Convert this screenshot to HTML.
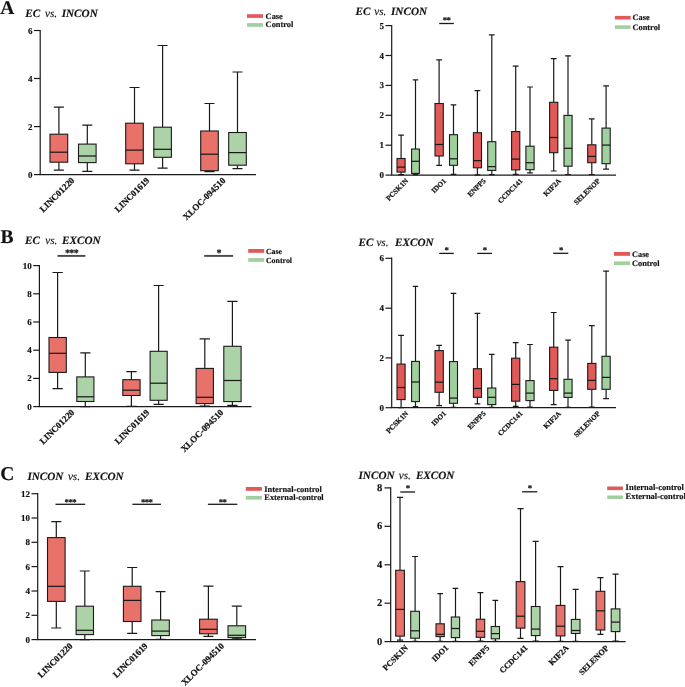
<!DOCTYPE html>
<html><head><meta charset="utf-8"><title>Figure</title>
<style>
html,body{margin:0;padding:0;background:#fff}
body{width:685px;height:687px;overflow:hidden}
svg{display:block;font-family:"Liberation Serif","DejaVu Serif",serif;fill:#111}
text{stroke:#111;stroke-width:.15px;text-rendering:geometricPrecision}
</style></head><body>
<svg width="685" height="687" viewBox="0 0 685 687">
<rect width="685" height="687" fill="#fff"/>
<text x="0.2" y="14" font-size="19.5" font-weight="bold">A</text>
<text y="16.9" font-size="11.2" font-style="italic" font-weight="bold"><tspan x="25.3">EC</tspan> <tspan x="45" font-weight="normal" style="stroke-width:.1px">vs.</tspan> <tspan x="61.7">INCON</tspan></text>
<path d="M40.2 29.9V174.6H256.0" stroke="#1a1a1a" stroke-width="1.2" fill="none"/>
<path d="M34.0 174.6H40.2" stroke="#1a1a1a" stroke-width="1.2"/>
<text x="32.5" y="177.6" text-anchor="end" font-size="9" font-weight="bold">0</text>
<path d="M34.0 126.6H40.2" stroke="#1a1a1a" stroke-width="1.2"/>
<text x="32.5" y="129.6" text-anchor="end" font-size="9" font-weight="bold">2</text>
<path d="M34.0 78.5H40.2" stroke="#1a1a1a" stroke-width="1.2"/>
<text x="32.5" y="81.6" text-anchor="end" font-size="9" font-weight="bold">4</text>
<path d="M34.0 30.5H40.2" stroke="#1a1a1a" stroke-width="1.2"/>
<text x="32.5" y="33.5" text-anchor="end" font-size="9" font-weight="bold">6</text>
<path d="M58.9 107.2V134.2M58.9 162.2V170.2M53.8 107.2H63.9M53.8 170.2H63.9" stroke="#1a1a1a" stroke-width="1.2" fill="none"/><rect x="50.0" y="134.2" width="17.7" height="28.0" fill="#E8716A" stroke="#1a1a1a" stroke-width="1.1"/><path d="M50.0 152.2H67.7" stroke="#1a1a1a" stroke-width="1.25"/>
<path d="M87.3 125.2V144.1M87.3 162.6V171.3M82.3 125.2H92.3M82.3 171.3H92.3" stroke="#1a1a1a" stroke-width="1.2" fill="none"/><rect x="78.5" y="144.1" width="17.6" height="18.5" fill="#ACD3A8" stroke="#1a1a1a" stroke-width="1.1"/><path d="M78.5 156.0H96.1" stroke="#1a1a1a" stroke-width="1.25"/>
<path d="M134.5 87.5V123.2M134.5 163.8V170.2M129.5 87.5H139.5M129.5 170.2H139.5" stroke="#1a1a1a" stroke-width="1.2" fill="none"/><rect x="125.7" y="123.2" width="17.6" height="40.6" fill="#E8716A" stroke="#1a1a1a" stroke-width="1.1"/><path d="M125.7 150.1H143.3" stroke="#1a1a1a" stroke-width="1.25"/>
<path d="M162.6 45.5V127.2M162.6 157.3V168.2M157.6 45.5H167.6M157.6 168.2H167.6" stroke="#1a1a1a" stroke-width="1.2" fill="none"/><rect x="153.8" y="127.2" width="17.6" height="30.1" fill="#ACD3A8" stroke="#1a1a1a" stroke-width="1.1"/><path d="M153.8 149.3H171.4" stroke="#1a1a1a" stroke-width="1.25"/>
<path d="M209.5 103.5V131.0M209.5 170.7V171.7M204.5 103.5H214.5M204.5 171.7H214.5" stroke="#1a1a1a" stroke-width="1.2" fill="none"/><rect x="200.7" y="131.0" width="17.6" height="39.7" fill="#E8716A" stroke="#1a1a1a" stroke-width="1.1"/><path d="M200.7 154.2H218.3" stroke="#1a1a1a" stroke-width="1.25"/>
<path d="M237.5 72.0V132.5M237.5 165.2V168.6M232.5 72.0H242.5M232.5 168.6H242.5" stroke="#1a1a1a" stroke-width="1.2" fill="none"/><rect x="228.7" y="132.5" width="17.6" height="32.7" fill="#ACD3A8" stroke="#1a1a1a" stroke-width="1.1"/><path d="M228.7 152.6H246.3" stroke="#1a1a1a" stroke-width="1.25"/>
<text transform="translate(75.0 181.0) rotate(-45)" text-anchor="end" font-size="9.0" font-weight="bold" style="stroke-width:.22px">LINC01220</text>
<text transform="translate(150.0 181.0) rotate(-45)" text-anchor="end" font-size="9.0" font-weight="bold" style="stroke-width:.22px">LINC01619</text>
<text transform="translate(226.2 181.0) rotate(-45)" text-anchor="end" font-size="9.0" font-weight="bold" style="stroke-width:.22px">XLOC-094510</text>
<rect x="247" y="14.2" width="16.0" height="3.7" fill="#E15A58"/>
<rect x="247" y="23.1" width="16.0" height="3.7" fill="#A0D09E"/>
<text x="265.6" y="18.8" font-size="8.4" font-weight="bold">Case</text>
<text x="265.6" y="27.4" font-size="8.4" font-weight="bold">Control</text>
<text y="14.9" font-size="11.2" font-style="italic" font-weight="bold"><tspan x="355.5">EC</tspan> <tspan x="374.3" font-weight="normal" style="stroke-width:.1px">vs.</tspan> <tspan x="391">INCON</tspan></text>
<path d="M391.7 25.0V175.1H616.0" stroke="#1a1a1a" stroke-width="1.2" fill="none"/>
<path d="M385.5 175.1H391.7" stroke="#1a1a1a" stroke-width="1.2"/>
<text x="384.0" y="178.1" text-anchor="end" font-size="9" font-weight="bold">0</text>
<path d="M385.5 145.2H391.7" stroke="#1a1a1a" stroke-width="1.2"/>
<text x="384.0" y="148.2" text-anchor="end" font-size="9" font-weight="bold">1</text>
<path d="M385.5 115.3H391.7" stroke="#1a1a1a" stroke-width="1.2"/>
<text x="384.0" y="118.3" text-anchor="end" font-size="9" font-weight="bold">2</text>
<path d="M385.5 85.4H391.7" stroke="#1a1a1a" stroke-width="1.2"/>
<text x="384.0" y="88.4" text-anchor="end" font-size="9" font-weight="bold">3</text>
<path d="M385.5 55.5H391.7" stroke="#1a1a1a" stroke-width="1.2"/>
<text x="384.0" y="58.5" text-anchor="end" font-size="9" font-weight="bold">4</text>
<path d="M385.5 25.6H391.7" stroke="#1a1a1a" stroke-width="1.2"/>
<text x="384.0" y="28.6" text-anchor="end" font-size="9" font-weight="bold">5</text>
<path d="M401.1 135.2V158.5M401.1 172.1V174.6M398.2 135.2H403.9M398.2 174.6H403.9" stroke="#1a1a1a" stroke-width="1.2" fill="none"/><rect x="397.0" y="158.5" width="8.1" height="13.6" fill="#E15A58" stroke="#1a1a1a" stroke-width="1.1"/><path d="M397.0 167.1H405.1" stroke="#1a1a1a" stroke-width="1.25"/>
<path d="M415.5 79.9V149.0M415.5 173.4V174.6M412.8 79.9H418.2M412.8 174.6H418.2" stroke="#1a1a1a" stroke-width="1.2" fill="none"/><rect x="411.6" y="149.0" width="7.8" height="24.4" fill="#A0D09E" stroke="#1a1a1a" stroke-width="1.1"/><path d="M411.6 161.3H419.4" stroke="#1a1a1a" stroke-width="1.25"/>
<path d="M439.1 59.8V103.5M439.1 156.0V165.3M436.3 59.8H442.0M436.3 165.3H442.0" stroke="#1a1a1a" stroke-width="1.2" fill="none"/><rect x="435.0" y="103.5" width="8.3" height="52.5" fill="#E15A58" stroke="#1a1a1a" stroke-width="1.1"/><path d="M435.0 144.5H443.3" stroke="#1a1a1a" stroke-width="1.25"/>
<path d="M453.5 104.8V134.7M453.5 165.3V174.4M450.7 104.8H456.3M450.7 174.4H456.3" stroke="#1a1a1a" stroke-width="1.2" fill="none"/><rect x="449.5" y="134.7" width="8.0" height="30.6" fill="#A0D09E" stroke="#1a1a1a" stroke-width="1.1"/><path d="M449.5 158.8H457.5" stroke="#1a1a1a" stroke-width="1.25"/>
<path d="M477.4 90.7V132.7M477.4 167.8V174.8M474.6 90.7H480.3M474.6 174.8H480.3" stroke="#1a1a1a" stroke-width="1.2" fill="none"/><rect x="473.4" y="132.7" width="8.1" height="35.1" fill="#E15A58" stroke="#1a1a1a" stroke-width="1.1"/><path d="M473.4 160.6H481.5" stroke="#1a1a1a" stroke-width="1.25"/>
<path d="M491.8 34.9V141.7M491.8 170.4V174.6M488.9 34.9H494.6M488.9 174.6H494.6" stroke="#1a1a1a" stroke-width="1.2" fill="none"/><rect x="487.7" y="141.7" width="8.1" height="28.7" fill="#A0D09E" stroke="#1a1a1a" stroke-width="1.1"/><path d="M487.7 166.6H495.8" stroke="#1a1a1a" stroke-width="1.25"/>
<path d="M515.7 66.2V131.6M515.7 169.9V174.3M512.8 66.2H518.6M512.8 174.3H518.6" stroke="#1a1a1a" stroke-width="1.2" fill="none"/><rect x="511.6" y="131.6" width="8.2" height="38.3" fill="#E15A58" stroke="#1a1a1a" stroke-width="1.1"/><path d="M511.6 159.1H519.8" stroke="#1a1a1a" stroke-width="1.25"/>
<path d="M530.0 87.0V146.2M530.0 169.7V172.9M527.1 87.0H532.9M527.1 172.9H532.9" stroke="#1a1a1a" stroke-width="1.2" fill="none"/><rect x="525.9" y="146.2" width="8.2" height="23.5" fill="#A0D09E" stroke="#1a1a1a" stroke-width="1.1"/><path d="M525.9 162.7H534.1" stroke="#1a1a1a" stroke-width="1.25"/>
<path d="M553.7 58.6V102.3M553.7 152.7V171.0M550.8 58.6H556.6M550.8 171.0H556.6" stroke="#1a1a1a" stroke-width="1.2" fill="none"/><rect x="549.6" y="102.3" width="8.2" height="50.4" fill="#E15A58" stroke="#1a1a1a" stroke-width="1.1"/><path d="M549.6 137.5H557.8" stroke="#1a1a1a" stroke-width="1.25"/>
<path d="M568.0 55.9V115.4M568.0 166.2V174.5M565.2 55.9H570.9M565.2 174.5H570.9" stroke="#1a1a1a" stroke-width="1.2" fill="none"/><rect x="564.0" y="115.4" width="8.1" height="50.8" fill="#A0D09E" stroke="#1a1a1a" stroke-width="1.1"/><path d="M564.0 148.3H572.1" stroke="#1a1a1a" stroke-width="1.25"/>
<path d="M591.8 118.9V144.8M591.8 162.7V174.5M588.9 118.9H594.7M588.9 174.5H594.7" stroke="#1a1a1a" stroke-width="1.2" fill="none"/><rect x="587.7" y="144.8" width="8.2" height="17.9" fill="#E15A58" stroke="#1a1a1a" stroke-width="1.1"/><path d="M587.7 156.4H595.9" stroke="#1a1a1a" stroke-width="1.25"/>
<path d="M606.1 85.9V128.1M606.1 163.7V169.1M603.2 85.9H609.0M603.2 169.1H609.0" stroke="#1a1a1a" stroke-width="1.2" fill="none"/><rect x="602.0" y="128.1" width="8.2" height="35.6" fill="#A0D09E" stroke="#1a1a1a" stroke-width="1.1"/><path d="M602.0 145.1H610.2" stroke="#1a1a1a" stroke-width="1.25"/>
<text transform="translate(408.7 181.4) rotate(-45)" text-anchor="end" font-size="7.2" font-weight="bold" style="stroke-width:.22px">PCSK1N</text>
<text transform="translate(446.5 181.4) rotate(-45)" text-anchor="end" font-size="7.2" font-weight="bold" style="stroke-width:.22px">IDO1</text>
<text transform="translate(486.2 181.4) rotate(-45)" text-anchor="end" font-size="7.2" font-weight="bold" style="stroke-width:.22px">ENPP5</text>
<text transform="translate(523.0 181.4) rotate(-45)" text-anchor="end" font-size="7.2" font-weight="bold" style="stroke-width:.22px">CCDC141</text>
<text transform="translate(561.5 181.4) rotate(-45)" text-anchor="end" font-size="7.2" font-weight="bold" style="stroke-width:.22px">KIF2A</text>
<text transform="translate(600.5 181.4) rotate(-45)" text-anchor="end" font-size="7.2" font-weight="bold" style="stroke-width:.22px">SELENOP</text>
<rect x="614.9" y="15.9" width="15.8" height="3.6" fill="#E15A58"/>
<rect x="614.9" y="25.3" width="15.8" height="3.6" fill="#A0D09E"/>
<text x="632.6" y="20.3" font-size="8.3" font-weight="bold">Case</text>
<text x="632.6" y="29.7" font-size="8.3" font-weight="bold">Control</text>
<path d="M439.2 23.5H453.8" stroke="#1a1a1a" stroke-width="1.3"/>
<text x="446.5" y="23.4" text-anchor="middle" font-size="8.8" font-weight="bold" style="stroke-width:.2px;letter-spacing:-.6px">**</text>
<text x="0.5" y="242.8" font-size="19.5" font-weight="bold">B</text>
<text y="243.8" font-size="11.2" font-style="italic" font-weight="bold"><tspan x="25">EC</tspan> <tspan x="45.2" font-weight="normal" style="stroke-width:.1px">vs.</tspan> <tspan x="62">EXCON</tspan></text>
<path d="M39.4 265.0V406.6H251.5" stroke="#1a1a1a" stroke-width="1.2" fill="none"/>
<path d="M33.2 406.6H39.4" stroke="#1a1a1a" stroke-width="1.2"/>
<text x="31.7" y="409.6" text-anchor="end" font-size="9" font-weight="bold">0</text>
<path d="M33.2 378.4H39.4" stroke="#1a1a1a" stroke-width="1.2"/>
<text x="31.7" y="381.4" text-anchor="end" font-size="9" font-weight="bold">2</text>
<path d="M33.2 350.2H39.4" stroke="#1a1a1a" stroke-width="1.2"/>
<text x="31.7" y="353.2" text-anchor="end" font-size="9" font-weight="bold">4</text>
<path d="M33.2 322.0H39.4" stroke="#1a1a1a" stroke-width="1.2"/>
<text x="31.7" y="325.0" text-anchor="end" font-size="9" font-weight="bold">6</text>
<path d="M33.2 293.8H39.4" stroke="#1a1a1a" stroke-width="1.2"/>
<text x="31.7" y="296.8" text-anchor="end" font-size="9" font-weight="bold">8</text>
<path d="M33.2 265.6H39.4" stroke="#1a1a1a" stroke-width="1.2"/>
<text x="31.7" y="268.6" text-anchor="end" font-size="9" font-weight="bold">10</text>
<path d="M57.6 272.5V337.5M57.6 372.4V388.7M52.5 272.5H62.8M52.5 388.7H62.8" stroke="#1a1a1a" stroke-width="1.2" fill="none"/><rect x="49.0" y="337.5" width="17.3" height="34.9" fill="#E8716A" stroke="#1a1a1a" stroke-width="1.1"/><path d="M49.0 353.3H66.3" stroke="#1a1a1a" stroke-width="1.25"/>
<path d="M85.3 352.8V376.9M85.3 401.5V406.6M80.3 352.8H90.4M80.3 406.6H90.4" stroke="#1a1a1a" stroke-width="1.2" fill="none"/><rect x="76.8" y="376.9" width="17.1" height="24.6" fill="#ACD3A8" stroke="#1a1a1a" stroke-width="1.1"/><path d="M76.8 396.8H93.9" stroke="#1a1a1a" stroke-width="1.25"/>
<path d="M131.4 371.7V379.7M131.4 395.5V406.3M126.3 371.7H136.6M126.3 406.3H136.6" stroke="#1a1a1a" stroke-width="1.2" fill="none"/><rect x="122.8" y="379.7" width="17.3" height="15.8" fill="#E8716A" stroke="#1a1a1a" stroke-width="1.1"/><path d="M122.8 390.2H140.1" stroke="#1a1a1a" stroke-width="1.25"/>
<path d="M158.6 285.5V351.3M158.6 400.3V404.3M153.6 285.5H163.7M153.6 404.3H163.7" stroke="#1a1a1a" stroke-width="1.2" fill="none"/><rect x="150.1" y="351.3" width="17.1" height="49.0" fill="#ACD3A8" stroke="#1a1a1a" stroke-width="1.1"/><path d="M150.1 383.2H167.2" stroke="#1a1a1a" stroke-width="1.25"/>
<path d="M204.8 338.8V368.4M204.8 403.6V406.1M199.6 338.8H209.9M199.6 406.1H209.9" stroke="#1a1a1a" stroke-width="1.2" fill="none"/><rect x="196.1" y="368.4" width="17.3" height="35.2" fill="#E8716A" stroke="#1a1a1a" stroke-width="1.1"/><path d="M196.1 397.3H213.4" stroke="#1a1a1a" stroke-width="1.25"/>
<path d="M232.4 301.4V346.3M232.4 401.6V405.4M227.3 301.4H237.6M227.3 405.4H237.6" stroke="#1a1a1a" stroke-width="1.2" fill="none"/><rect x="223.8" y="346.3" width="17.3" height="55.3" fill="#ACD3A8" stroke="#1a1a1a" stroke-width="1.1"/><path d="M223.8 380.5H241.1" stroke="#1a1a1a" stroke-width="1.25"/>
<text transform="translate(75.0 413.0) rotate(-45)" text-anchor="end" font-size="9.0" font-weight="bold" style="stroke-width:.22px">LINC01220</text>
<text transform="translate(150.0 413.0) rotate(-45)" text-anchor="end" font-size="9.0" font-weight="bold" style="stroke-width:.22px">LINC01619</text>
<text transform="translate(224.0 413.0) rotate(-45)" text-anchor="end" font-size="9.0" font-weight="bold" style="stroke-width:.22px">XLOC-094510</text>
<rect x="248.2" y="249" width="16.0" height="3.8" fill="#E15A58"/>
<rect x="248.2" y="258.1" width="16.0" height="3.7" fill="#A0D09E"/>
<text x="265.9" y="253.6" font-size="7.9" font-weight="bold">Case</text>
<text x="265.9" y="262.6" font-size="7.9" font-weight="bold">Control</text>
<path d="M57.5 255.9H85.4" stroke="#4a4a4a" stroke-width="1.9"/>
<text x="71.5" y="255.6" text-anchor="middle" font-size="10" font-weight="bold" style="stroke-width:.2px;letter-spacing:-.6px">***</text>
<path d="M204.2 255.9H233.1" stroke="#4a4a4a" stroke-width="1.9"/>
<text x="218.6" y="255.6" text-anchor="middle" font-size="10" font-weight="bold" style="stroke-width:.2px;letter-spacing:-.6px">*</text>
<text y="246.4" font-size="11.2" font-style="italic" font-weight="bold"><tspan x="358.5">EC</tspan> <tspan x="376.4" font-weight="normal" style="stroke-width:.1px">vs.</tspan> <tspan x="395">EXCON</tspan></text>
<path d="M391.7 257.6V407.7H616.0" stroke="#1a1a1a" stroke-width="1.2" fill="none"/>
<path d="M385.5 407.7H391.7" stroke="#1a1a1a" stroke-width="1.2"/>
<text x="384.0" y="410.7" text-anchor="end" font-size="9" font-weight="bold">0</text>
<path d="M385.5 357.9H391.7" stroke="#1a1a1a" stroke-width="1.2"/>
<text x="384.0" y="360.9" text-anchor="end" font-size="9" font-weight="bold">2</text>
<path d="M385.5 308.2H391.7" stroke="#1a1a1a" stroke-width="1.2"/>
<text x="384.0" y="311.2" text-anchor="end" font-size="9" font-weight="bold">4</text>
<path d="M385.5 258.3H391.7" stroke="#1a1a1a" stroke-width="1.2"/>
<text x="384.0" y="261.3" text-anchor="end" font-size="9" font-weight="bold">6</text>
<path d="M401.1 335.3V364.1M401.1 399.6V407.6M398.2 335.3H403.9M398.2 407.6H403.9" stroke="#1a1a1a" stroke-width="1.2" fill="none"/><rect x="397.0" y="364.1" width="8.1" height="35.5" fill="#E15A58" stroke="#1a1a1a" stroke-width="1.1"/><path d="M397.0 387.5H405.1" stroke="#1a1a1a" stroke-width="1.25"/>
<path d="M415.5 286.3V361.4M415.5 401.6V406.6M412.8 286.3H418.2M412.8 406.6H418.2" stroke="#1a1a1a" stroke-width="1.2" fill="none"/><rect x="411.6" y="361.4" width="7.8" height="40.2" fill="#A0D09E" stroke="#1a1a1a" stroke-width="1.1"/><path d="M411.6 382.0H419.4" stroke="#1a1a1a" stroke-width="1.25"/>
<path d="M439.1 345.3V350.6M439.1 392.3V405.6M436.3 345.3H442.0M436.3 405.6H442.0" stroke="#1a1a1a" stroke-width="1.2" fill="none"/><rect x="435.0" y="350.6" width="8.3" height="41.7" fill="#E15A58" stroke="#1a1a1a" stroke-width="1.1"/><path d="M435.0 382.2H443.3" stroke="#1a1a1a" stroke-width="1.25"/>
<path d="M453.5 293.3V361.6M453.5 403.3V407.4M450.7 293.3H456.3M450.7 407.4H456.3" stroke="#1a1a1a" stroke-width="1.2" fill="none"/><rect x="449.5" y="361.6" width="8.0" height="41.7" fill="#A0D09E" stroke="#1a1a1a" stroke-width="1.1"/><path d="M449.5 398.1H457.5" stroke="#1a1a1a" stroke-width="1.25"/>
<path d="M477.4 313.4V368.7M477.4 397.3V403.8M474.6 313.4H480.3M474.6 403.8H480.3" stroke="#1a1a1a" stroke-width="1.2" fill="none"/><rect x="473.4" y="368.7" width="8.1" height="28.6" fill="#E15A58" stroke="#1a1a1a" stroke-width="1.1"/><path d="M473.4 388.5H481.5" stroke="#1a1a1a" stroke-width="1.25"/>
<path d="M491.8 354.3V388.0M491.8 404.6V407.4M488.9 354.3H494.6M488.9 407.4H494.6" stroke="#1a1a1a" stroke-width="1.2" fill="none"/><rect x="487.7" y="388.0" width="8.1" height="16.6" fill="#A0D09E" stroke="#1a1a1a" stroke-width="1.1"/><path d="M487.7 397.3H495.8" stroke="#1a1a1a" stroke-width="1.25"/>
<path d="M515.7 342.6V358.2M515.7 401.2V406.3M512.8 342.6H518.6M512.8 406.3H518.6" stroke="#1a1a1a" stroke-width="1.2" fill="none"/><rect x="511.6" y="358.2" width="8.2" height="43.0" fill="#E15A58" stroke="#1a1a1a" stroke-width="1.1"/><path d="M511.6 384.4H519.8" stroke="#1a1a1a" stroke-width="1.25"/>
<path d="M530.0 344.5V380.6M530.0 400.6V407.1M527.1 344.5H532.9M527.1 407.1H532.9" stroke="#1a1a1a" stroke-width="1.2" fill="none"/><rect x="525.9" y="380.6" width="8.2" height="20.0" fill="#A0D09E" stroke="#1a1a1a" stroke-width="1.1"/><path d="M525.9 393.1H534.1" stroke="#1a1a1a" stroke-width="1.25"/>
<path d="M553.7 312.5V347.2M553.7 390.4V404.7M550.8 312.5H556.6M550.8 404.7H556.6" stroke="#1a1a1a" stroke-width="1.2" fill="none"/><rect x="549.6" y="347.2" width="8.2" height="43.2" fill="#E15A58" stroke="#1a1a1a" stroke-width="1.1"/><path d="M549.6 378.7H557.8" stroke="#1a1a1a" stroke-width="1.25"/>
<path d="M568.0 340.1V379.3M568.0 397.4V407.4M565.2 340.1H570.9M565.2 407.4H570.9" stroke="#1a1a1a" stroke-width="1.2" fill="none"/><rect x="564.0" y="379.3" width="8.1" height="18.1" fill="#A0D09E" stroke="#1a1a1a" stroke-width="1.1"/><path d="M564.0 393.1H572.1" stroke="#1a1a1a" stroke-width="1.25"/>
<path d="M591.8 325.7V363.4M591.8 389.3V407.1M588.9 325.7H594.7M588.9 407.1H594.7" stroke="#1a1a1a" stroke-width="1.2" fill="none"/><rect x="587.7" y="363.4" width="8.2" height="25.9" fill="#E15A58" stroke="#1a1a1a" stroke-width="1.1"/><path d="M587.7 380.4H595.9" stroke="#1a1a1a" stroke-width="1.25"/>
<path d="M606.1 271.2V356.3M606.1 389.3V398.7M603.2 271.2H609.0M603.2 398.7H609.0" stroke="#1a1a1a" stroke-width="1.2" fill="none"/><rect x="602.0" y="356.3" width="8.2" height="33.0" fill="#A0D09E" stroke="#1a1a1a" stroke-width="1.1"/><path d="M602.0 377.4H610.2" stroke="#1a1a1a" stroke-width="1.25"/>
<text transform="translate(408.7 414.0) rotate(-45)" text-anchor="end" font-size="7.2" font-weight="bold" style="stroke-width:.22px">PCSK1N</text>
<text transform="translate(446.5 414.0) rotate(-45)" text-anchor="end" font-size="7.2" font-weight="bold" style="stroke-width:.22px">IDO1</text>
<text transform="translate(486.2 414.0) rotate(-45)" text-anchor="end" font-size="7.2" font-weight="bold" style="stroke-width:.22px">ENPP5</text>
<text transform="translate(523.0 414.0) rotate(-45)" text-anchor="end" font-size="7.2" font-weight="bold" style="stroke-width:.22px">CCDC141</text>
<text transform="translate(561.5 414.0) rotate(-45)" text-anchor="end" font-size="7.2" font-weight="bold" style="stroke-width:.22px">KIF2A</text>
<text transform="translate(600.5 414.0) rotate(-45)" text-anchor="end" font-size="7.2" font-weight="bold" style="stroke-width:.22px">SELENOP</text>
<rect x="614" y="252" width="16.1" height="3.8" fill="#E15A58"/>
<rect x="614" y="261.4" width="16.1" height="3.7" fill="#A0D09E"/>
<text x="632" y="257" font-size="8.3" font-weight="bold">Case</text>
<text x="632" y="265.8" font-size="8.3" font-weight="bold">Control</text>
<path d="M439.2 253.4H453.8" stroke="#1a1a1a" stroke-width="1.3"/>
<text x="446.5" y="253.1" text-anchor="middle" font-size="8.8" font-weight="bold" style="stroke-width:.2px;letter-spacing:-.6px">*</text>
<path d="M477.2 253.4H492.0" stroke="#1a1a1a" stroke-width="1.3"/>
<text x="484.6" y="253.1" text-anchor="middle" font-size="8.8" font-weight="bold" style="stroke-width:.2px;letter-spacing:-.6px">*</text>
<path d="M553.2 253.3H568.3" stroke="#1a1a1a" stroke-width="1.3"/>
<text x="560.8" y="253.0" text-anchor="middle" font-size="8.8" font-weight="bold" style="stroke-width:.2px;letter-spacing:-.6px">*</text>
<text x="0.3" y="479.6" font-size="19.5" font-weight="bold">C</text>
<text y="479.5" font-size="11.2" font-style="italic" font-weight="bold"><tspan x="27.4">INCON</tspan> <tspan x="67.9" font-weight="normal" style="stroke-width:.1px">vs.</tspan> <tspan x="85">EXCON</tspan></text>
<path d="M37.7 493.1V639.6H256.0" stroke="#1a1a1a" stroke-width="1.2" fill="none"/>
<path d="M31.5 639.6H37.7" stroke="#1a1a1a" stroke-width="1.2"/>
<text x="30.0" y="642.6" text-anchor="end" font-size="9" font-weight="bold">0</text>
<path d="M31.5 615.3H37.7" stroke="#1a1a1a" stroke-width="1.2"/>
<text x="30.0" y="618.3" text-anchor="end" font-size="9" font-weight="bold">2</text>
<path d="M31.5 591.0H37.7" stroke="#1a1a1a" stroke-width="1.2"/>
<text x="30.0" y="594.0" text-anchor="end" font-size="9" font-weight="bold">4</text>
<path d="M31.5 566.6H37.7" stroke="#1a1a1a" stroke-width="1.2"/>
<text x="30.0" y="569.7" text-anchor="end" font-size="9" font-weight="bold">6</text>
<path d="M31.5 542.3H37.7" stroke="#1a1a1a" stroke-width="1.2"/>
<text x="30.0" y="545.4" text-anchor="end" font-size="9" font-weight="bold">8</text>
<path d="M31.5 518.0H37.7" stroke="#1a1a1a" stroke-width="1.2"/>
<text x="30.0" y="521.0" text-anchor="end" font-size="9" font-weight="bold">10</text>
<path d="M31.5 493.7H37.7" stroke="#1a1a1a" stroke-width="1.2"/>
<text x="30.0" y="496.7" text-anchor="end" font-size="9" font-weight="bold">12</text>
<path d="M56.3 521.6V537.6M56.3 601.4V628.0M51.3 521.6H61.3M51.3 628.0H61.3" stroke="#1a1a1a" stroke-width="1.2" fill="none"/><rect x="47.5" y="537.6" width="17.6" height="63.8" fill="#E8716A" stroke="#1a1a1a" stroke-width="1.1"/><path d="M47.5 586.3H65.1" stroke="#1a1a1a" stroke-width="1.25"/>
<path d="M84.8 571.0V606.2M84.8 634.6V639.6M79.8 571.0H89.8M79.8 639.6H89.8" stroke="#1a1a1a" stroke-width="1.2" fill="none"/><rect x="76.1" y="606.2" width="17.4" height="28.4" fill="#ACD3A8" stroke="#1a1a1a" stroke-width="1.1"/><path d="M76.1 630.3H93.5" stroke="#1a1a1a" stroke-width="1.25"/>
<path d="M132.2 567.5V586.3M132.2 621.5V633.3M127.2 567.5H137.2M127.2 633.3H137.2" stroke="#1a1a1a" stroke-width="1.2" fill="none"/><rect x="123.4" y="586.3" width="17.6" height="35.2" fill="#E8716A" stroke="#1a1a1a" stroke-width="1.1"/><path d="M123.4 600.4H141.0" stroke="#1a1a1a" stroke-width="1.25"/>
<path d="M160.6 591.6V620.0M160.6 635.6V639.3M155.6 591.6H165.5M155.6 639.3H165.5" stroke="#1a1a1a" stroke-width="1.2" fill="none"/><rect x="151.8" y="620.0" width="17.5" height="15.6" fill="#ACD3A8" stroke="#1a1a1a" stroke-width="1.1"/><path d="M151.8 631.1H169.3" stroke="#1a1a1a" stroke-width="1.25"/>
<path d="M208.4 586.1V619.2M208.4 633.8V636.3M203.4 586.1H213.4M203.4 636.3H213.4" stroke="#1a1a1a" stroke-width="1.2" fill="none"/><rect x="199.6" y="619.2" width="17.6" height="14.6" fill="#E8716A" stroke="#1a1a1a" stroke-width="1.1"/><path d="M199.6 629.3H217.2" stroke="#1a1a1a" stroke-width="1.25"/>
<path d="M236.8 606.2V625.8M236.8 637.6V638.8M231.8 606.2H241.8M231.8 638.8H241.8" stroke="#1a1a1a" stroke-width="1.2" fill="none"/><rect x="228.0" y="625.8" width="17.6" height="11.8" fill="#ACD3A8" stroke="#1a1a1a" stroke-width="1.1"/><path d="M228.0 635.3H245.6" stroke="#1a1a1a" stroke-width="1.25"/>
<text transform="translate(73.2 646.5) rotate(-45)" text-anchor="end" font-size="9.0" font-weight="bold" style="stroke-width:.22px">LINC01220</text>
<text transform="translate(148.3 646.5) rotate(-45)" text-anchor="end" font-size="9.0" font-weight="bold" style="stroke-width:.22px">LINC01619</text>
<text transform="translate(224.6 646.5) rotate(-45)" text-anchor="end" font-size="9.0" font-weight="bold" style="stroke-width:.22px">XLOC-094510</text>
<rect x="245.8" y="487" width="16.1" height="3.8" fill="#E15A58"/>
<rect x="245.8" y="495.9" width="16.1" height="3.7" fill="#A0D09E"/>
<text x="264.3" y="491.6" font-size="8.4" font-weight="bold">Internal-control</text>
<text x="264.3" y="500.1" font-size="8.4" font-weight="bold">External-control</text>
<path d="M55.5 504.3H85.2" stroke="#1a1a1a" stroke-width="1.3"/>
<text x="70.3" y="504.5" text-anchor="middle" font-size="8.8" font-weight="bold" style="stroke-width:.2px;letter-spacing:-.6px">***</text>
<path d="M132.4 504.3H161.0" stroke="#1a1a1a" stroke-width="1.3"/>
<text x="146.7" y="504.5" text-anchor="middle" font-size="8.8" font-weight="bold" style="stroke-width:.2px;letter-spacing:-.6px">***</text>
<path d="M207.9 504.3H237.3" stroke="#1a1a1a" stroke-width="1.3"/>
<text x="222.6" y="504.5" text-anchor="middle" font-size="8.8" font-weight="bold" style="stroke-width:.2px;letter-spacing:-.6px">**</text>
<text y="479.3" font-size="11.2" font-style="italic" font-weight="bold"><tspan x="358.5">INCON</tspan> <tspan x="398.8" font-weight="normal" style="stroke-width:.1px">vs.</tspan> <tspan x="415.9">EXCON</tspan></text>
<path d="M390.7 487.3V641.6H625.6" stroke="#1a1a1a" stroke-width="1.2" fill="none"/>
<path d="M384.5 641.6H390.7" stroke="#1a1a1a" stroke-width="1.2"/>
<text x="382.3" y="644.5" text-anchor="end" font-size="10.5" font-weight="bold">0</text>
<path d="M384.5 603.2H390.7" stroke="#1a1a1a" stroke-width="1.2"/>
<text x="382.3" y="606.1" text-anchor="end" font-size="10.5" font-weight="bold">2</text>
<path d="M384.5 564.8H390.7" stroke="#1a1a1a" stroke-width="1.2"/>
<text x="382.3" y="567.7" text-anchor="end" font-size="10.5" font-weight="bold">4</text>
<path d="M384.5 526.3H390.7" stroke="#1a1a1a" stroke-width="1.2"/>
<text x="382.3" y="529.3" text-anchor="end" font-size="10.5" font-weight="bold">6</text>
<path d="M384.5 487.9H390.7" stroke="#1a1a1a" stroke-width="1.2"/>
<text x="382.3" y="490.9" text-anchor="end" font-size="10.5" font-weight="bold">8</text>
<path d="M400.0 497.4V570.3M400.0 636.1V640.1M397.0 497.4H403.1M397.0 640.1H403.1" stroke="#1a1a1a" stroke-width="1.2" fill="none"/><rect x="395.7" y="570.3" width="8.7" height="65.8" fill="#E8716A" stroke="#1a1a1a" stroke-width="1.1"/><path d="M395.7 609.4H404.4" stroke="#1a1a1a" stroke-width="1.25"/>
<path d="M415.1 556.5V611.3M415.1 638.2V641.3M412.1 556.5H418.1M412.1 641.3H418.1" stroke="#1a1a1a" stroke-width="1.2" fill="none"/><rect x="410.7" y="611.3" width="8.8" height="26.9" fill="#ACD3A8" stroke="#1a1a1a" stroke-width="1.1"/><path d="M410.7 630.8H419.5" stroke="#1a1a1a" stroke-width="1.25"/>
<path d="M440.1 593.6V623.8M440.1 636.6V641.3M437.3 593.6H443.0M437.3 641.3H443.0" stroke="#1a1a1a" stroke-width="1.2" fill="none"/><rect x="436.0" y="623.8" width="8.3" height="12.8" fill="#E8716A" stroke="#1a1a1a" stroke-width="1.1"/><path d="M436.0 634.3H444.3" stroke="#1a1a1a" stroke-width="1.25"/>
<path d="M455.5 588.3V617.0M455.5 637.6V641.3M452.6 588.3H458.3M452.6 641.3H458.3" stroke="#1a1a1a" stroke-width="1.2" fill="none"/><rect x="451.3" y="617.0" width="8.3" height="20.6" fill="#ACD3A8" stroke="#1a1a1a" stroke-width="1.1"/><path d="M451.3 628.5H459.6" stroke="#1a1a1a" stroke-width="1.25"/>
<path d="M480.4 592.6V619.2M480.4 637.3V641.0M477.5 592.6H483.4M477.5 641.0H483.4" stroke="#1a1a1a" stroke-width="1.2" fill="none"/><rect x="476.2" y="619.2" width="8.5" height="18.1" fill="#E8716A" stroke="#1a1a1a" stroke-width="1.1"/><path d="M476.2 631.3H484.7" stroke="#1a1a1a" stroke-width="1.25"/>
<path d="M495.4 600.4V626.5M495.4 638.8V641.3M492.5 600.4H498.2M492.5 641.3H498.2" stroke="#1a1a1a" stroke-width="1.2" fill="none"/><rect x="491.2" y="626.5" width="8.3" height="12.3" fill="#ACD3A8" stroke="#1a1a1a" stroke-width="1.1"/><path d="M491.2 633.6H499.5" stroke="#1a1a1a" stroke-width="1.25"/>
<path d="M520.5 508.6V581.6M520.5 628.1V638.3M517.5 508.6H523.6M517.5 638.3H523.6" stroke="#1a1a1a" stroke-width="1.2" fill="none"/><rect x="516.2" y="581.6" width="8.7" height="46.5" fill="#E8716A" stroke="#1a1a1a" stroke-width="1.1"/><path d="M516.2 616.2H524.9" stroke="#1a1a1a" stroke-width="1.25"/>
<path d="M535.6 541.3V606.5M535.6 635.6V641.0M532.6 541.3H538.7M532.6 641.0H538.7" stroke="#1a1a1a" stroke-width="1.2" fill="none"/><rect x="531.3" y="606.5" width="8.7" height="29.1" fill="#ACD3A8" stroke="#1a1a1a" stroke-width="1.1"/><path d="M531.3 629.1H540.0" stroke="#1a1a1a" stroke-width="1.25"/>
<path d="M560.5 566.7V605.4M560.5 635.9V641.3M557.5 566.7H563.5M557.5 641.3H563.5" stroke="#1a1a1a" stroke-width="1.2" fill="none"/><rect x="556.1" y="605.4" width="8.8" height="30.5" fill="#E8716A" stroke="#1a1a1a" stroke-width="1.1"/><path d="M556.1 626.2H564.9" stroke="#1a1a1a" stroke-width="1.25"/>
<path d="M575.6 589.4V619.4M575.6 633.5V641.3M572.6 589.4H578.7M572.6 641.3H578.7" stroke="#1a1a1a" stroke-width="1.2" fill="none"/><rect x="571.3" y="619.4" width="8.7" height="14.1" fill="#ACD3A8" stroke="#1a1a1a" stroke-width="1.1"/><path d="M571.3 630.5H580.0" stroke="#1a1a1a" stroke-width="1.25"/>
<path d="M600.5 577.6V591.3M600.5 630.0V634.3M597.4 577.6H603.5M597.4 634.3H603.5" stroke="#1a1a1a" stroke-width="1.2" fill="none"/><rect x="596.1" y="591.3" width="8.7" height="38.7" fill="#E8716A" stroke="#1a1a1a" stroke-width="1.1"/><path d="M596.1 610.8H604.8" stroke="#1a1a1a" stroke-width="1.25"/>
<path d="M615.5 574.1V608.9M615.5 631.6V641.0M612.5 574.1H618.6M612.5 641.0H618.6" stroke="#1a1a1a" stroke-width="1.2" fill="none"/><rect x="611.2" y="608.9" width="8.7" height="22.7" fill="#ACD3A8" stroke="#1a1a1a" stroke-width="1.1"/><path d="M611.2 622.1H619.9" stroke="#1a1a1a" stroke-width="1.25"/>
<text transform="translate(408.5 648.4) rotate(-45)" text-anchor="end" font-size="8.2" font-weight="bold" style="stroke-width:.22px">PCSK1N</text>
<text transform="translate(448.8 648.4) rotate(-45)" text-anchor="end" font-size="8.2" font-weight="bold" style="stroke-width:.22px">IDO1</text>
<text transform="translate(490.0 648.4) rotate(-45)" text-anchor="end" font-size="8.2" font-weight="bold" style="stroke-width:.22px">ENPP5</text>
<text transform="translate(528.2 648.4) rotate(-45)" text-anchor="end" font-size="8.2" font-weight="bold" style="stroke-width:.22px">CCDC141</text>
<text transform="translate(569.3 648.4) rotate(-45)" text-anchor="end" font-size="8.2" font-weight="bold" style="stroke-width:.22px">KIF2A</text>
<text transform="translate(609.2 648.4) rotate(-45)" text-anchor="end" font-size="8.2" font-weight="bold" style="stroke-width:.22px">SELENOP</text>
<rect x="607.2" y="486.5" width="15.7" height="3.6" fill="#E15A58"/>
<rect x="607.2" y="495.5" width="15.7" height="3.5" fill="#A0D09E"/>
<text x="625.6" y="489.7" font-size="8.5" font-weight="bold">Internal-control</text>
<text x="625.6" y="498.9" font-size="8.5" font-weight="bold">External-control</text>
<path d="M400.3 492.0H415.1" stroke="#1a1a1a" stroke-width="1.3"/>
<text x="407.7" y="491.4" text-anchor="middle" font-size="8.8" font-weight="bold" style="stroke-width:.2px;letter-spacing:-.6px">*</text>
<path d="M522.1 491.8H537.3" stroke="#1a1a1a" stroke-width="1.3"/>
<text x="529.7" y="491.2" text-anchor="middle" font-size="8.8" font-weight="bold" style="stroke-width:.2px;letter-spacing:-.6px">*</text>
</svg>
</body></html>
